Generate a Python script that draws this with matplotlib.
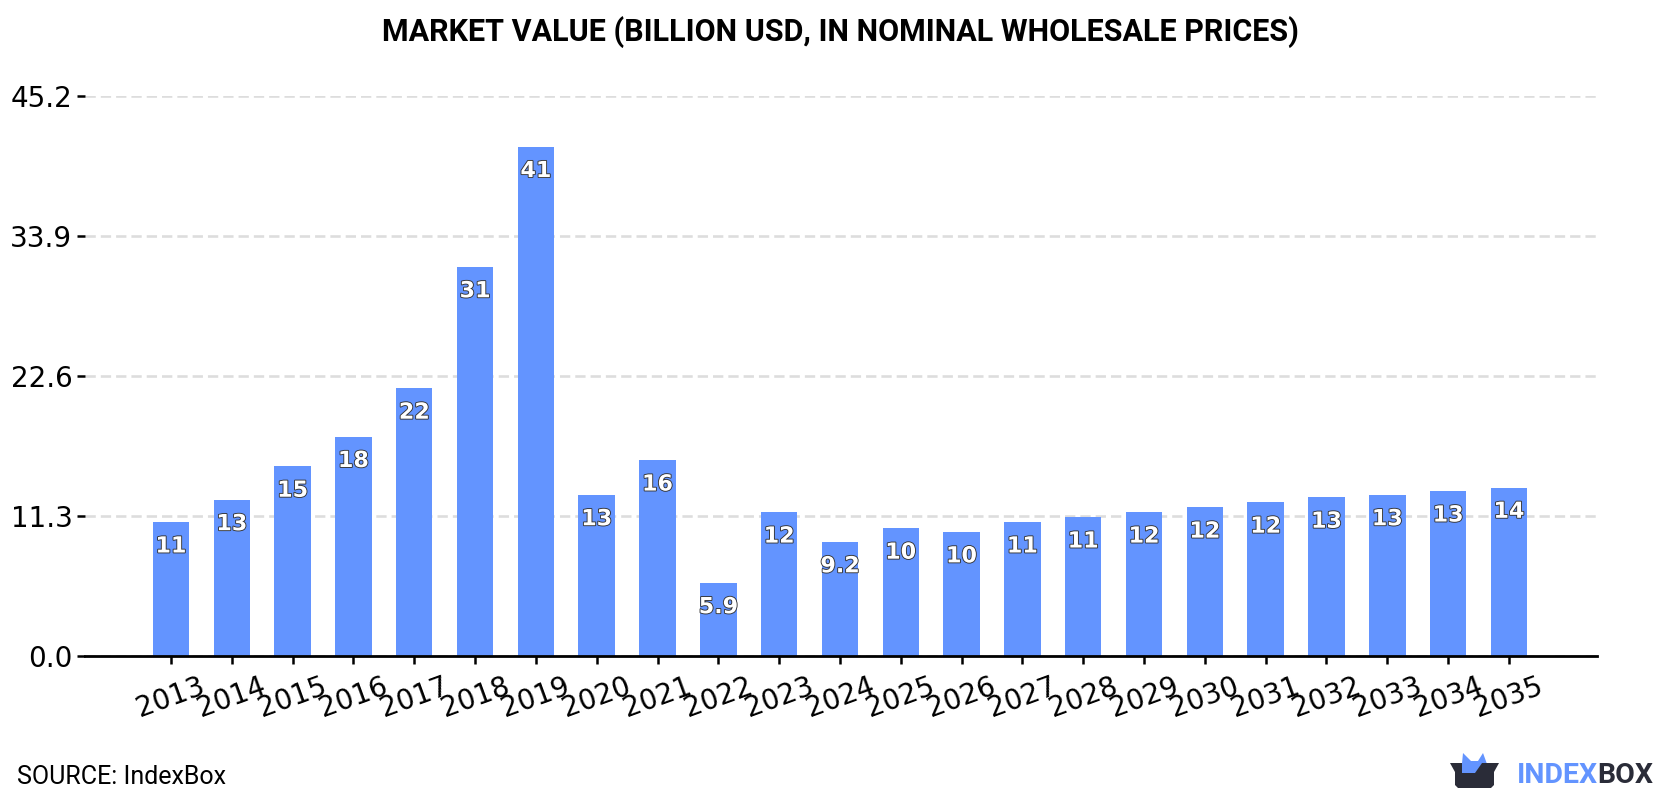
import matplotlib
matplotlib.use("Agg")
import matplotlib.pyplot as plt
import matplotlib.patheffects as pe
from matplotlib.patches import Polygon

# --- Data ---
years = [2013, 2014, 2015, 2016, 2017, 2018, 2019, 2020, 2021, 2022, 2023, 2024,
         2025, 2026, 2027, 2028, 2029, 2030, 2031, 2032, 2033, 2034, 2035]
market_value = [10.8, 12.6, 15.3, 17.7, 21.6, 31.4, 41.1, 13.0, 15.8, 5.9, 11.6, 9.2,
                10.3, 10.0, 10.8, 11.2, 11.6, 12.0, 12.4, 12.8, 13.0, 13.3, 13.6]
y_ticks = [0.0, 11.3, 22.6, 33.9, 45.2]

BAR_COLOR = "#6394ff"
DARK = "#2a2c38"
W, H = 1680, 800

fig = plt.figure(figsize=(W / 100, H / 100), dpi=100)
ax = fig.add_axes([85 / W, 1 - 656 / H, (1596.5 - 85) / W, (656 - 96) / H])

x = list(range(len(years)))
ax.bar(x, market_value, width=0.6, color=BAR_COLOR, zorder=3)

ax.set_xlim(-1.414, 23.44)
ax.set_ylim(0, 45.2)
ax.set_xticks(x)
ax.set_xticklabels(years, rotation=20)
ax.set_yticks(y_ticks)
ax.set_yticklabels([f"{t:.1f}" for t in y_ticks])
ax.tick_params(axis="both", labelsize=20, length=5.5, width=1.8, color="black")
ax.tick_params(axis="x", pad=6)
ax.tick_params(axis="y", pad=3.5)

ax.grid(axis="y", color="#dddddd", linewidth=1.9, linestyle=(0, (3.9, 1.9)), zorder=1)
ax.set_axisbelow(True)
for side in ["top", "left", "right"]:
    ax.spines[side].set_visible(False)
ax.spines["bottom"].set_linewidth(2.0)
ax.spines["bottom"].set_zorder(5)

# value labels inside the bars
for i, v in zip(x, market_value):
    ax.annotate(f"{v:.2g}", (i, v), xytext=(0, -17.5), textcoords="offset points",
                ha="center", va="center", fontsize=16, fontweight="bold",
                family="DejaVu Sans", color="white", zorder=6,
                path_effects=[pe.withStroke(linewidth=1.3, foreground="#333333")])

fig.text(840 / W, 1 - 32 / H, "MARKET VALUE (BILLION USD, IN NOMINAL WHOLESALE PRICES)",
         ha="center", va="center", fontsize=22, fontweight="bold", family="Roboto", color="black")
fig.text(17 / W, 1 - 777 / H, "SOURCE: IndexBox", ha="left", va="center",
         fontsize=18, family="Roboto", color="black")


# --- Logo, in pixel coordinates ---
def px(points):
    return [(a / W, 1 - b / H) for a, b in points]


fig.add_artist(Polygon(px([(1461, 774), (1463, 753), (1471, 761), (1478, 761), (1483, 753),
                           (1487, 764), (1482, 764), (1475, 774)]),
                       closed=True, transform=fig.transFigure, color=BAR_COLOR, lw=0))
fig.add_artist(Polygon(px([(1450, 763), (1462, 763), (1462, 773), (1475, 773), (1482, 763),
                           (1499, 763), (1494, 772), (1494, 785), (1491, 788), (1458, 788),
                           (1455, 785), (1455, 772)]),
                       closed=True, transform=fig.transFigure, color=DARK, lw=0))
fig.text(1517 / W, 1 - 775.5 / H, "INDEX", ha="left", va="center", fontsize=20.5,
         fontweight="bold", family="Roboto", color=BAR_COLOR)
fig.text(1597 / W, 1 - 775.5 / H, "BOX", ha="left", va="center", fontsize=20.5,
         fontweight="bold", family="Roboto", color=DARK)

fig.savefig("out.png", dpi=100, facecolor="white")
